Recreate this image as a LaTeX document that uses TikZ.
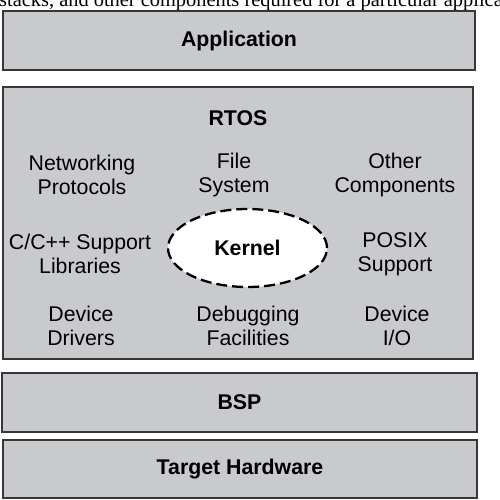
\documentclass[tikz,border=0pt]{standalone}
\usepackage{fontspec}
\setmainfont{Liberation Sans}
\newfontfamily\textserif{Liberation Serif}
\usetikzlibrary{shapes.geometric}
\definecolor{layergray}{RGB}{201,202,206}
\definecolor{layerline}{RGB}{55,55,55}
\tikzset{
  layer/.style={draw=layerline,line width=1.5pt,fill=layergray,inner sep=0pt},
  layertitle/.style={font=\fontsize{21.3}{24}\selectfont\bfseries},
  part/.style={align=center,font=\fontsize{21.3}{24}\selectfont}
}
\begin{document}
\begin{tikzpicture}[x=1pt,y=-1pt]
\useasboundingbox (0,0) rectangle (500,499);
\clip (0,0) rectangle (500,499);
\node(caption) at (-1,6)[anchor=base west,inner sep=0pt,font=\textserif\fontsize{20.4}{24}\selectfont] {stacks, and other components required for a particular application};

\node(app) at (239,40.5)[layer,minimum width=472,minimum height=59,layertitle] {Application};
\node(rtos) at (238,223)[layer,minimum width=470,minimum height=272] {};
\node(bsp) at (239.5,402.5)[layer,minimum width=475,minimum height=59,layertitle] {BSP};
\node(hw) at (240,469)[layer,minimum width=474,minimum height=58,layertitle] {Target Hardware};

\node(rtostitle) at (238,118)[layertitle] {RTOS};
\node(kernel) at (247.5,248)[shape=ellipse,draw,fill=white,line width=2.3pt,dash pattern=on 11pt off 5pt,minimum width=159,minimum height=78,layertitle] {Kernel};

\node(net) at (82,175)[part]  {Networking\\Protocols};
\node(fs) at (234,175)[part]  {File\\System};
\node(other) at (395,175)[part]  {Other\\Components};
\node(libs) at (80,254)[part]  {C/C++ Support\\Libraries};
\node(posix) at (395,254)[part]  {POSIX\\Support};
\node(drv) at (81,326)[part]  {Device\\Drivers};
\node(dbg) at (248,326)[part]  {Debugging\\Facilities};
\node(io) at (397,326)[part]  {Device\\I/O};
\end{tikzpicture}
\end{document}
